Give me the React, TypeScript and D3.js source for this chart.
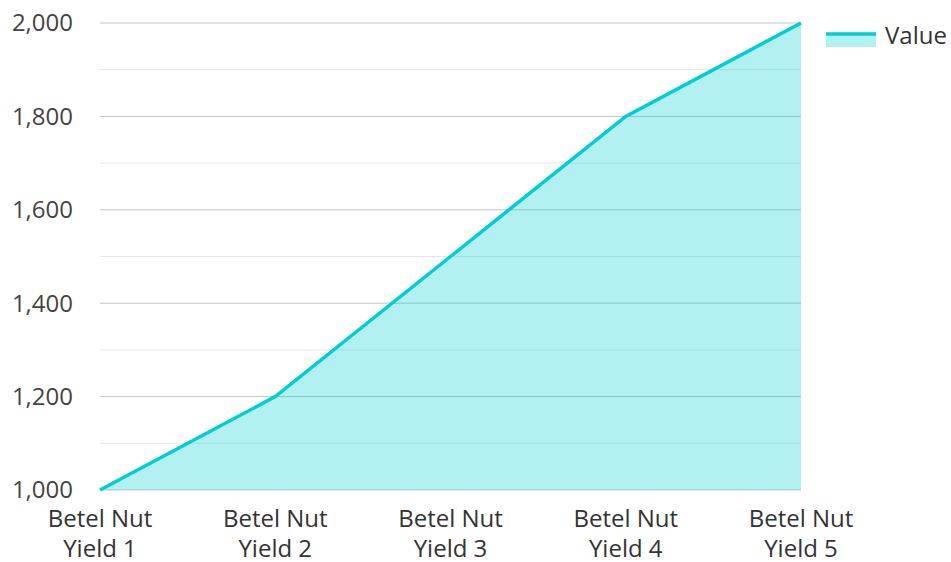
import React from "react";
import * as d3 from "d3";

const categories = ["Betel Nut Yield 1", "Betel Nut Yield 2", "Betel Nut Yield 3", "Betel Nut Yield 4", "Betel Nut Yield 5"];
const values = [1000, 1200, 1500, 1800, 2000];
const yTicks = [1000, 1200, 1400, 1600, 1800, 2000];
const minorTicks = [1100, 1300, 1500, 1700, 1900];

const W = 951;
const H = 562;
const margin = { left: 100, right: 150, top: 23, bottom: 72 };
const color = "#00CED1";
const font = "'Open Sans', sans-serif";

const App = () => {
  const x = d3
    .scalePoint()
    .domain(categories)
    .range([margin.left, W - margin.right]);
  const y = d3
    .scaleLinear()
    .domain([1000, 2000])
    .range([H - margin.bottom, margin.top]);

  const pts = categories.map((c, i) => ({ c, v: values[i] }));
  const line = d3
    .line()
    .x(d => x(d.c))
    .y(d => y(d.v));
  const area = d3
    .area()
    .x(d => x(d.c))
    .y0(y(1000))
    .y1(d => y(d.v));
  const fmt = d3.format(",");

  return (
    <svg width={W} height={H} style={{ position: "absolute", left: 0, top: 0 }}>
      {minorTicks.map(t => (
        <line key={"m" + t} x1={margin.left} x2={W - margin.right} y1={y(t)} y2={y(t)} stroke="#e6e6e6" strokeWidth={1} />
      ))}
      {yTicks.map(t => (
        <line key={"g" + t} x1={margin.left} x2={W - margin.right} y1={y(t)} y2={y(t)} stroke="#c4c4c4" strokeWidth={1} />
      ))}
      <path d={area(pts)} fill={color} fillOpacity={0.3} />
      <path d={line(pts)} fill="none" stroke={color} strokeWidth={3.5} />
      {yTicks.map(t => (
        <text key={"t" + t} x={73} y={y(t)} dy="0.35em" textAnchor="end" fontFamily={font} fontSize={24} fill="#444">
          {fmt(t)}
        </text>
      ))}
      {categories.map(c => {
        const parts = c.split(" ");
        return (
          <text key={c} x={x(c)} textAnchor="middle" fontFamily={font} fontSize={24} fill="#333">
            <tspan x={x(c)} y={527}>{parts.slice(0, 2).join(" ")}</tspan>
            <tspan x={x(c)} y={557}>{parts.slice(2).join(" ")}</tspan>
          </text>
        );
      })}
      <g transform="translate(826,34)">
        <rect x={0} y={0} width={50} height={13} fill={color} fillOpacity={0.3} />
        <line x1={0} x2={50} y1={0} y2={0} stroke={color} strokeWidth={3.5} />
        <text x={59} y={2} dy="0.35em" fontFamily={font} fontSize={24} fill="#333">Value</text>
      </g>
    </svg>
  );
};

export default App;
